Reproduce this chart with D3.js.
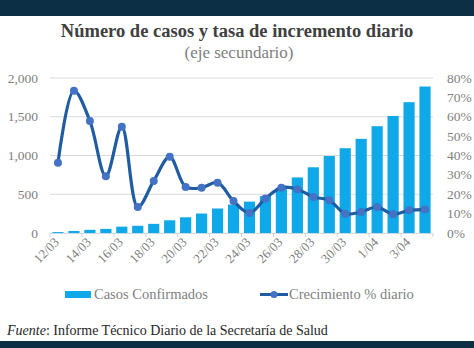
<!DOCTYPE html>
<html>
<head>
<meta charset="utf-8">
<script src="https://cdn.jsdelivr.net/npm/d3@7"></script>
<style>
  body { margin: 0; background: #fff; }
  svg text { font-family: "Liberation Serif", "DejaVu Serif", serif; }
</style>
</head>
<body>
<svg id="chart" width="474" height="348"></svg>
<script>
// fechas del eje x
var dates = ['12/03','13/03','14/03','15/03','16/03','17/03','18/03','19/03','20/03','21/03','22/03','23/03',
             '24/03','25/03','26/03','27/03','28/03','29/03','30/03','31/03','1/04','2/04','3/04','4/04'];
// casos confirmados (eje izquierdo)
var casos = [12, 26, 41, 53, 82, 93, 118, 164, 203, 251, 316, 367,
             405, 475, 585, 717, 848, 993, 1094, 1215, 1378, 1510, 1688, 1890];
// crecimiento % diario (eje secundario)
var crecimiento = [36.2, 73.4, 57.8, 29.3, 54.8, 13.4, 26.9, 39.3, 23.8, 23.4, 26.0, 16.5,
                   10.3, 17.8, 23.4, 22.6, 18.6, 16.9, 10.0, 10.9, 13.4, 9.7, 11.7, 12.1];
var leftTicks = [0, 500, 1000, 1500, 2000];
var rightTicks = [0, 10, 20, 30, 40, 50, 60, 70, 80];

var svg = d3.select('#chart');

// bandas oscuras arriba y abajo
svg.append('rect').attr('x', 0).attr('y', 0).attr('width', 474).attr('height', 16).attr('fill', '#0d2f45');
svg.append('rect').attr('x', 0).attr('y', 341).attr('width', 474).attr('height', 7).attr('fill', '#0d2f45');

svg.append('text').attr('x', 237).attr('y', 37).attr('text-anchor', 'middle')
  .style('font-size', '18.5px').style('font-weight', 'bold').attr('fill', '#404040')
  .text('Número de casos y tasa de incremento diario');
svg.append('text').attr('x', 239).attr('y', 58).attr('text-anchor', 'middle')
  .style('font-size', '17px').attr('fill', '#7f7f7f')
  .text('(eje secundario)');

var x = d3.scaleBand().domain(dates).range([50, 433]).paddingInner(0.3).paddingOuter(0.15);
var y = d3.scaleLinear().domain([0, 2000]).range([233, 78]);
var y2 = d3.scaleLinear().domain([0, 80]).range([233, 78]);

// rejilla
svg.append('g').selectAll('line').data(leftTicks.slice(1)).enter().append('line')
  .attr('x1', 50).attr('x2', 433)
  .attr('y1', function(d){ return y(d); }).attr('y2', function(d){ return y(d); })
  .attr('stroke', '#d9d9d9').attr('stroke-width', 1);

// eje izquierdo
svg.append('g').selectAll('text').data(leftTicks).enter().append('text')
  .attr('x', 38).attr('y', function(d){ return y(d) + 4.5; })
  .attr('text-anchor', 'end').style('font-size', '13.5px').attr('fill', '#7f7f7f')
  .text(function(d){ return d3.format(',')(d); });

// eje derecho
svg.append('g').selectAll('text').data(rightTicks).enter().append('text')
  .attr('x', 447).attr('y', function(d){ return y2(d) + 4.5; })
  .attr('text-anchor', 'start').style('font-size', '13.5px').attr('fill', '#7f7f7f')
  .text(function(d){ return d + '%'; });

// barras
svg.append('g').selectAll('rect').data(casos).enter().append('rect')
  .attr('x', function(d, i){ return x(dates[i]); })
  .attr('width', x.bandwidth())
  .attr('y', function(d){ return y(d); })
  .attr('height', function(d){ return y(0) - y(d); })
  .attr('fill', '#0fa8e8');

// linea base y marcas
svg.append('line').attr('x1', 50).attr('x2', 433).attr('y1', y(0) + 0.5).attr('y2', y(0) + 0.5)
  .attr('stroke', '#d0d8e0');
var step = (433 - 50) / dates.length;
svg.append('g').selectAll('line').data(d3.range(0, dates.length + 1, 2)).enter().append('line')
  .attr('x1', function(k){ return 50 + k * step; }).attr('x2', function(k){ return 50 + k * step; })
  .attr('y1', y(0)).attr('y2', y(0) + 4)
  .attr('stroke', '#c8d4e0');

// etiquetas x
svg.append('g').selectAll('text').data(dates.filter(function(d, i){ return i % 2 === 0; })).enter().append('text')
  .attr('transform', function(d){ return 'translate(' + (x(d) + x.bandwidth() / 2 + 2) + ',' + 243 + ') rotate(-45)'; })
  .attr('text-anchor', 'end').style('font-size', '13px').attr('fill', '#7f7f7f')
  .text(function(d){ return d; });

// linea de crecimiento
var line = d3.line()
  .x(function(d, i){ return x(dates[i]) + x.bandwidth() / 2; })
  .y(function(d){ return y2(d); })
  .curve(d3.curveCatmullRom.alpha(0.5));
svg.append('path').datum(crecimiento).attr('d', line)
  .attr('fill', 'none').attr('stroke', '#1f5ca2').attr('stroke-width', 3.2);
svg.append('g').selectAll('circle').data(crecimiento).enter().append('circle')
  .attr('cx', function(d, i){ return x(dates[i]) + x.bandwidth() / 2; })
  .attr('cy', function(d){ return y2(d); })
  .attr('r', 4).attr('fill', '#4472c4');

// leyenda
svg.append('rect').attr('x', 65).attr('y', 291).attr('width', 26).attr('height', 7).attr('fill', '#0fa8e8');
svg.append('text').attr('x', 94).attr('y', 299).style('font-size', '14.5px').attr('fill', '#7f7f7f').text('Casos Confirmados');
svg.append('line').attr('x1', 260).attr('x2', 288).attr('y1', 294.5).attr('y2', 294.5)
  .attr('stroke', '#1f5ca2').attr('stroke-width', 3);
svg.append('circle').attr('cx', 274).attr('cy', 294.5).attr('r', 3.5).attr('fill', '#4472c4');
svg.append('text').attr('x', 289).attr('y', 299).style('font-size', '14.5px').attr('fill', '#7f7f7f').text('Crecimiento % diario');

// fuente
var src = svg.append('text').attr('x', 7).attr('y', 335).style('font-size', '14px').attr('fill', '#262626');
src.append('tspan').style('font-style', 'italic').text('Fuente');
src.append('tspan').text(': Informe Técnico Diario de la Secretaría de Salud');
</script>
</body>
</html>
